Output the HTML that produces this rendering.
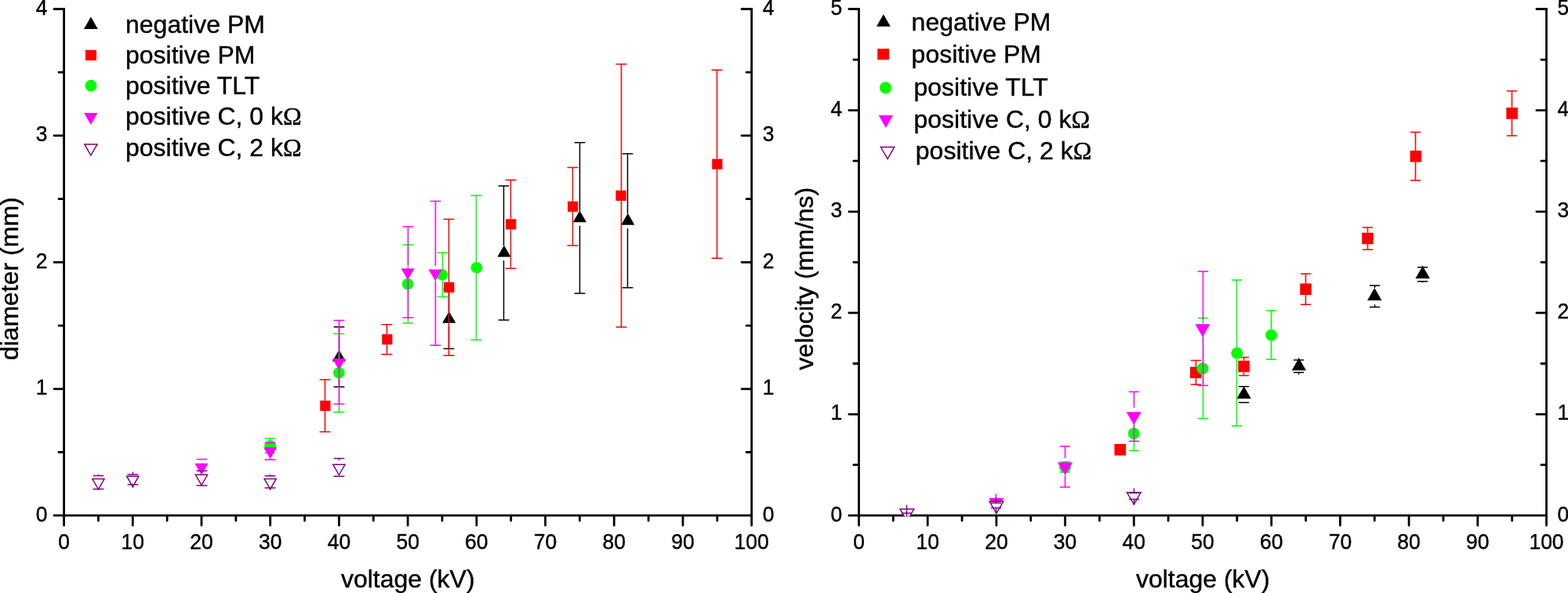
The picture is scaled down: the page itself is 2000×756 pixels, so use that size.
<!DOCTYPE html><html><head><meta charset="utf-8"><title>diameter and velocity vs voltage</title><style>html,body{margin:0;padding:0;background:#fff;}svg{display:block;}</style></head><body>
<svg width="2000" height="756" viewBox="0 0 2000 756" font-family='"Liberation Sans", Arial, sans-serif' fill="#000"><style>text{stroke:#000;stroke-width:0.4px;}</style>
<rect width="2000" height="756" fill="#fff"/>
<line x1="80.2" y1="657.2" x2="960.1" y2="657.2" stroke="#000000" stroke-width="2.8" stroke-linecap="butt"/>
<line x1="81.6" y1="10.1" x2="81.6" y2="657.2" stroke="#000000" stroke-width="2.8" stroke-linecap="butt"/>
<line x1="958.7" y1="10.1" x2="958.7" y2="657.2" stroke="#000000" stroke-width="2.8" stroke-linecap="butt"/>
<path d="M81.6 657.2V669.8M125.45 657.2V663.8M169.31 657.2V669.8M213.16 657.2V663.8M257.02 657.2V669.8M300.88 657.2V663.8M344.73 657.2V669.8M388.59 657.2V663.8M432.44 657.2V669.8M476.3 657.2V663.8M520.15 657.2V669.8M564 657.2V663.8M607.86 657.2V669.8M651.72 657.2V663.8M695.57 657.2V669.8M739.43 657.2V663.8M783.28 657.2V669.8M827.14 657.2V663.8M870.99 657.2V669.8M914.85 657.2V663.8M958.7 657.2V669.8M81.6 657.2H69M81.6 576.49H75M958.7 576.49H952.1M81.6 495.78H69M958.7 495.78H946.1M81.6 415.06H75M958.7 415.06H952.1M81.6 334.35H69M958.7 334.35H946.1M81.6 253.64H75M958.7 253.64H952.1M81.6 172.93H69M958.7 172.93H946.1M81.6 92.21H75M958.7 92.21H952.1M81.6 11.5H69M958.7 11.5H946.1" stroke="#000" stroke-width="2.8" stroke-linecap="round" fill="none"/>
<text transform="translate(81.6,699.8) scale(1,1.07)" font-size="26.5" text-anchor="middle">0</text>
<text transform="translate(169.31,699.8) scale(1,1.07)" font-size="26.5" text-anchor="middle">10</text>
<text transform="translate(257.02,699.8) scale(1,1.07)" font-size="26.5" text-anchor="middle">20</text>
<text transform="translate(344.73,699.8) scale(1,1.07)" font-size="26.5" text-anchor="middle">30</text>
<text transform="translate(432.44,699.8) scale(1,1.07)" font-size="26.5" text-anchor="middle">40</text>
<text transform="translate(520.15,699.8) scale(1,1.07)" font-size="26.5" text-anchor="middle">50</text>
<text transform="translate(607.86,699.8) scale(1,1.07)" font-size="26.5" text-anchor="middle">60</text>
<text transform="translate(695.57,699.8) scale(1,1.07)" font-size="26.5" text-anchor="middle">70</text>
<text transform="translate(783.28,699.8) scale(1,1.07)" font-size="26.5" text-anchor="middle">80</text>
<text transform="translate(870.99,699.8) scale(1,1.07)" font-size="26.5" text-anchor="middle">90</text>
<text transform="translate(958.7,699.8) scale(1,1.07)" font-size="26.5" text-anchor="middle">100</text>
<text transform="translate(60.5,664.6) scale(1,1.07)" font-size="26.5" text-anchor="end">0</text>
<text transform="translate(972.7,664.6) scale(1,1.07)" font-size="26.5" text-anchor="start">0</text>
<text transform="translate(60.5,503.18) scale(1,1.07)" font-size="26.5" text-anchor="end">1</text>
<text transform="translate(972.7,503.18) scale(1,1.07)" font-size="26.5" text-anchor="start">1</text>
<text transform="translate(60.5,341.75) scale(1,1.07)" font-size="26.5" text-anchor="end">2</text>
<text transform="translate(972.7,341.75) scale(1,1.07)" font-size="26.5" text-anchor="start">2</text>
<text transform="translate(60.5,180.33) scale(1,1.07)" font-size="26.5" text-anchor="end">3</text>
<text transform="translate(972.7,180.33) scale(1,1.07)" font-size="26.5" text-anchor="start">3</text>
<text transform="translate(60.5,18.9) scale(1,1.07)" font-size="26.5" text-anchor="end">4</text>
<text transform="translate(972.7,18.9) scale(1,1.07)" font-size="26.5" text-anchor="start">4</text>
<text x="520.25" y="749.3" font-size="32" text-anchor="middle" >voltage (kV)</text>
<text transform="translate(23.2,355.3) rotate(-90)" x="0" y="0" font-size="32" text-anchor="middle">diameter (mm)</text>
<g clip-path="url(#clipL)">
<polygon points="432.44,445.9 441.01,460.75 423.87,460.75" fill="#000000"/>
<path d="M432.5 416.8V446.3M432.5 493.3V465.3M425.6 416.8H439.4M425.6 493.3H439.4" stroke="#000000" stroke-width="1.5" fill="none"/>
<polygon points="572.78,396.9 581.35,411.75 564.2,411.75" fill="#000000"/>
<path d="M572.5 368.8V397.3M572.5 444.4V416.3M565.6 368.8H579.4M565.6 444.4H579.4" stroke="#000000" stroke-width="1.5" fill="none"/>
<polygon points="642.94,312.7 651.52,327.55 634.37,327.55" fill="#000000"/>
<path d="M642.5 237.1V313.1M642.5 407.9V332.1M635.6 237.1H649.4M635.6 407.9H649.4" stroke="#000000" stroke-width="1.5" fill="none"/>
<polygon points="739.43,268.4 748,283.25 730.85,283.25" fill="#000000"/>
<path d="M739.5 181.7V268.8M739.5 374.1V287.8M732.6 181.7H746.4M732.6 374.1H746.4" stroke="#000000" stroke-width="1.5" fill="none"/>
<polygon points="800.82,271.8 809.4,286.65 792.25,286.65" fill="#000000"/>
<path d="M800.5 196.1V272.2M800.5 366.7V291.2M793.6 196.1H807.4M793.6 366.7H807.4" stroke="#000000" stroke-width="1.5" fill="none"/>
<rect x="408.3" y="510.7" width="13.2" height="13.2" fill="#ff0000"/>
<path d="M414.5 484.1V510.7M414.5 550.5V523.9M407.6 484.1H421.4M407.6 550.5H421.4" stroke="#ff0000" stroke-width="1.5" fill="none"/>
<rect x="487.24" y="426.1" width="13.2" height="13.2" fill="#ff0000"/>
<path d="M493.5 413.7V426.1M493.5 451.7V439.3M486.6 413.7H500.4M486.6 451.7H500.4" stroke="#ff0000" stroke-width="1.5" fill="none"/>
<rect x="566.18" y="359.7" width="13.2" height="13.2" fill="#ff0000"/>
<path d="M572.5 279.4V359.7M572.5 453.3V372.9M565.6 279.4H579.4M565.6 453.3H579.4" stroke="#ff0000" stroke-width="1.5" fill="none"/>
<rect x="645.12" y="279.3" width="13.2" height="13.2" fill="#ff0000"/>
<path d="M651.5 229.5V279.3M651.5 342.2V292.5M644.6 229.5H658.4M644.6 342.2H658.4" stroke="#ff0000" stroke-width="1.5" fill="none"/>
<rect x="724.05" y="256.7" width="13.2" height="13.2" fill="#ff0000"/>
<path d="M730.5 213.6V256.7M730.5 313.1V269.9M723.6 213.6H737.4M723.6 313.1H737.4" stroke="#ff0000" stroke-width="1.5" fill="none"/>
<rect x="785.45" y="242.75" width="13.2" height="13.2" fill="#ff0000"/>
<path d="M792.5 81.8V242.75M792.5 416.9V255.95M785.6 81.8H799.4M785.6 416.9H799.4" stroke="#ff0000" stroke-width="1.5" fill="none"/>
<rect x="908.25" y="202.6" width="13.2" height="13.2" fill="#ff0000"/>
<path d="M914.5 89.2V202.6M914.5 329.2V215.8M907.6 89.2H921.4M907.6 329.2H921.4" stroke="#ff0000" stroke-width="1.5" fill="none"/>
<circle cx="344.73" cy="568.3" r="7.3" fill="#00ff00"/>
<path d="M344.5 559V561M344.5 577.6V575.6M337.6 559H351.4M337.6 577.6H351.4" stroke="#00ff00" stroke-width="1.5" fill="none"/>
<circle cx="432.44" cy="475.4" r="7.3" fill="#00ff00"/>
<path d="M432.5 425.4V468.1M432.5 525.4V482.7M425.6 425.4H439.4M425.6 525.4H439.4" stroke="#00ff00" stroke-width="1.5" fill="none"/>
<circle cx="520.15" cy="362.1" r="7.3" fill="#00ff00"/>
<path d="M520.5 312.1V354.8M520.5 412.1V369.4M513.6 312.1H527.4M513.6 412.1H527.4" stroke="#00ff00" stroke-width="1.5" fill="none"/>
<circle cx="564" cy="350.3" r="7.3" fill="#00ff00"/>
<path d="M564.5 322.2V343M564.5 378.4V357.6M557.6 322.2H571.4M557.6 378.4H571.4" stroke="#00ff00" stroke-width="1.5" fill="none"/>
<circle cx="607.86" cy="341.2" r="7.3" fill="#00ff00"/>
<path d="M607.5 249.2V333.9M607.5 433.3V348.5M600.6 249.2H614.4M600.6 433.3H614.4" stroke="#00ff00" stroke-width="1.5" fill="none"/>
<polygon points="257.02,605.7 265.59,590.85 248.45,590.85" fill="#ff00ff"/>
<path d="M257.5 585.6V586.3M257.5 606V605.3M250.6 585.6H264.4M250.6 606H264.4" stroke="#ff00ff" stroke-width="1.5" fill="none"/>
<polygon points="344.73,585.2 353.3,570.35 336.16,570.35" fill="#ff00ff"/>
<path d="M344.5 564.6V565.8M344.5 586V584.8M337.6 564.6H351.4M337.6 586H351.4" stroke="#ff00ff" stroke-width="1.5" fill="none"/>
<polygon points="432.44,471.8 441.01,456.95 423.87,456.95" fill="#ff00ff"/>
<path d="M432.5 408.6V452.4M432.5 514.9V471.4M425.6 408.6H439.4M425.6 514.9H439.4" stroke="#ff00ff" stroke-width="1.5" fill="none"/>
<polygon points="520.15,357.1 528.72,342.25 511.58,342.25" fill="#ff00ff"/>
<path d="M520.5 288.9V337.7M520.5 405.1V356.7M513.6 288.9H527.4M513.6 405.1H527.4" stroke="#ff00ff" stroke-width="1.5" fill="none"/>
<polygon points="555.23,358.3 563.81,343.45 546.66,343.45" fill="#ff00ff"/>
<path d="M555.5 256.5V338.9M555.5 440.3V357.9M548.6 256.5H562.4M548.6 440.3H562.4" stroke="#ff00ff" stroke-width="1.5" fill="none"/>
<polygon points="125.45,623.8 133.08,610.6 117.83,610.6" fill="#fff" stroke="#800080" stroke-width="1.5" stroke-linejoin="miter"/>
<path d="M125.5 606.5V605M125.5 623.5V625M118.6 606.5H132.4M118.6 623.5H132.4" stroke="#800080" stroke-width="1.5" fill="none"/>
<polygon points="169.31,620.4 176.93,607.2 161.69,607.2" fill="#fff" stroke="#800080" stroke-width="1.5" stroke-linejoin="miter"/>
<path d="M169.5 605V601.6M169.5 617.8V621.6M162.6 605H176.4M162.6 617.8H176.4" stroke="#800080" stroke-width="1.5" fill="none"/>
<polygon points="257.02,618.5 264.64,605.3 249.4,605.3" fill="#fff" stroke="#800080" stroke-width="1.5" stroke-linejoin="miter"/>
<path d="M257.5 600.3V599.7M257.5 618.9V619.7M250.6 600.3H264.4M250.6 618.9H264.4" stroke="#800080" stroke-width="1.5" fill="none"/>
<polygon points="344.73,623.6 352.35,610.4 337.11,610.4" fill="#fff" stroke="#800080" stroke-width="1.5" stroke-linejoin="miter"/>
<path d="M344.5 606.7V604.8M344.5 622.1V624.8M337.6 606.7H351.4M337.6 622.1H351.4" stroke="#800080" stroke-width="1.5" fill="none"/>
<polygon points="432.44,605.5 440.06,592.3 424.82,592.3" fill="#fff" stroke="#800080" stroke-width="1.5" stroke-linejoin="miter"/>
<path d="M432.5 584.4V586.7M432.5 607.3V606.7M425.6 584.4H439.4M425.6 607.3H439.4" stroke="#800080" stroke-width="1.5" fill="none"/>
</g>
<polygon points="115.9,21.45 124.82,36.9 106.98,36.9" fill="#000000"/>
<rect x="109" y="63.7" width="14" height="13.4" fill="#ff0000"/>
<circle cx="116" cy="109.3" r="7.5" fill="#00ff00"/>
<polygon points="115.8,158.9 124.46,143.9 107.14,143.9" fill="#ff00ff"/>
<polygon points="115.9,198 124.04,183.9 107.76,183.9" fill="#fff" stroke="#800080" stroke-width="1.5" stroke-linejoin="miter"/>
<text x="160" y="42.25" font-size="32" text-anchor="start" >negative PM</text>
<text x="160" y="80.5" font-size="32" text-anchor="start" >positive PM</text>
<text x="160" y="119.8" font-size="32" text-anchor="start" >positive TLT</text>
<text x="160" y="159.4" font-size="32" text-anchor="start" >positive C, 0 k<tspan font-family="'Liberation Serif', serif">Ω</tspan></text>
<text x="160" y="199.2" font-size="32" text-anchor="start" >positive C, 2 k<tspan font-family="'Liberation Serif', serif">Ω</tspan></text>
<line x1="1094.1" y1="657.2" x2="1973.9" y2="657.2" stroke="#000000" stroke-width="2.8" stroke-linecap="butt"/>
<line x1="1095.5" y1="10.1" x2="1095.5" y2="657.2" stroke="#000000" stroke-width="2.8" stroke-linecap="butt"/>
<line x1="1972.5" y1="10.1" x2="1972.5" y2="657.2" stroke="#000000" stroke-width="2.8" stroke-linecap="butt"/>
<path d="M1095.5 657.2V669.8M1139.35 657.2V663.8M1183.2 657.2V669.8M1227.05 657.2V663.8M1270.9 657.2V669.8M1314.75 657.2V663.8M1358.6 657.2V669.8M1402.45 657.2V663.8M1446.3 657.2V669.8M1490.15 657.2V663.8M1534 657.2V669.8M1577.85 657.2V663.8M1621.7 657.2V669.8M1665.55 657.2V663.8M1709.4 657.2V669.8M1753.25 657.2V663.8M1797.1 657.2V669.8M1840.95 657.2V663.8M1884.8 657.2V669.8M1928.65 657.2V663.8M1972.5 657.2V669.8M1095.5 657.2H1082.9M1095.5 592.63H1088.9M1972.5 592.63H1965.9M1095.5 528.06H1082.9M1972.5 528.06H1959.9M1095.5 463.49H1088.9M1972.5 463.49H1965.9M1095.5 398.92H1082.9M1972.5 398.92H1959.9M1095.5 334.35H1088.9M1972.5 334.35H1965.9M1095.5 269.78H1082.9M1972.5 269.78H1959.9M1095.5 205.21H1088.9M1972.5 205.21H1965.9M1095.5 140.64H1082.9M1972.5 140.64H1959.9M1095.5 76.07H1088.9M1972.5 76.07H1965.9M1095.5 11.5H1082.9M1972.5 11.5H1959.9" stroke="#000" stroke-width="2.8" stroke-linecap="round" fill="none"/>
<text transform="translate(1095.5,699.8) scale(1,1.07)" font-size="26.5" text-anchor="middle">0</text>
<text transform="translate(1183.2,699.8) scale(1,1.07)" font-size="26.5" text-anchor="middle">10</text>
<text transform="translate(1270.9,699.8) scale(1,1.07)" font-size="26.5" text-anchor="middle">20</text>
<text transform="translate(1358.6,699.8) scale(1,1.07)" font-size="26.5" text-anchor="middle">30</text>
<text transform="translate(1446.3,699.8) scale(1,1.07)" font-size="26.5" text-anchor="middle">40</text>
<text transform="translate(1534,699.8) scale(1,1.07)" font-size="26.5" text-anchor="middle">50</text>
<text transform="translate(1621.7,699.8) scale(1,1.07)" font-size="26.5" text-anchor="middle">60</text>
<text transform="translate(1709.4,699.8) scale(1,1.07)" font-size="26.5" text-anchor="middle">70</text>
<text transform="translate(1797.1,699.8) scale(1,1.07)" font-size="26.5" text-anchor="middle">80</text>
<text transform="translate(1884.8,699.8) scale(1,1.07)" font-size="26.5" text-anchor="middle">90</text>
<text transform="translate(1972.5,699.8) scale(1,1.07)" font-size="26.5" text-anchor="middle">100</text>
<text transform="translate(1074.2,664.6) scale(1,1.07)" font-size="26.5" text-anchor="end">0</text>
<text transform="translate(1986.5,664.6) scale(1,1.07)" font-size="26.5" text-anchor="start">0</text>
<text transform="translate(1074.2,535.46) scale(1,1.07)" font-size="26.5" text-anchor="end">1</text>
<text transform="translate(1986.5,535.46) scale(1,1.07)" font-size="26.5" text-anchor="start">1</text>
<text transform="translate(1074.2,406.32) scale(1,1.07)" font-size="26.5" text-anchor="end">2</text>
<text transform="translate(1986.5,406.32) scale(1,1.07)" font-size="26.5" text-anchor="start">2</text>
<text transform="translate(1074.2,277.18) scale(1,1.07)" font-size="26.5" text-anchor="end">3</text>
<text transform="translate(1986.5,277.18) scale(1,1.07)" font-size="26.5" text-anchor="start">3</text>
<text transform="translate(1074.2,148.04) scale(1,1.07)" font-size="26.5" text-anchor="end">4</text>
<text transform="translate(1986.5,148.04) scale(1,1.07)" font-size="26.5" text-anchor="start">4</text>
<text transform="translate(1074.2,18.9) scale(1,1.07)" font-size="26.5" text-anchor="end">5</text>
<text transform="translate(1986.5,18.9) scale(1,1.07)" font-size="26.5" text-anchor="start">5</text>
<text x="1534.25" y="749.3" font-size="32" text-anchor="middle" >voltage (kV)</text>
<text transform="translate(1036.7,355.2) rotate(-90)" x="0" y="0" font-size="32" text-anchor="middle">velocity (mm/ns)</text>
<g clip-path="url(#clipR)">
<polygon points="1586.62,492.4 1595.8,508.3 1577.44,508.3" fill="#000000"/>
<path d="M1586.5 492.7V492.4M1586.5 513.3V513.6M1579.9 492.7H1593.1M1579.9 513.3H1593.1" stroke="#000000" stroke-width="1.5" fill="none"/>
<polygon points="1656.78,456.4 1665.96,472.3 1647.6,472.3" fill="#000000"/>
<path d="M1656.5 459V456.4M1656.5 474.8V477.6M1649.9 459H1663.1M1649.9 474.8H1663.1" stroke="#000000" stroke-width="1.5" fill="none"/>
<polygon points="1753.25,367.1 1762.43,383 1744.07,383" fill="#000000"/>
<path d="M1753.5 364V367.1M1753.5 391.5V388.3M1746.9 364H1760.1M1746.9 391.5H1760.1" stroke="#000000" stroke-width="1.5" fill="none"/>
<polygon points="1814.64,339.1 1823.82,355 1805.46,355" fill="#000000"/>
<path d="M1814.5 340.7V339.1M1814.5 358.7V360.3M1807.9 340.7H1821.1M1807.9 358.7H1821.1" stroke="#000000" stroke-width="1.5" fill="none"/>
<rect x="1421.46" y="566" width="14.6" height="14.6" fill="#ff0000"/>
<path d="M1428.5 573.3V566M1428.5 573.3V580.6M1421.9 573.3H1435.1M1421.9 573.3H1435.1" stroke="#ff0000" stroke-width="1.5" fill="none"/>
<rect x="1517.93" y="467.6" width="14.6" height="14.6" fill="#ff0000"/>
<path d="M1525.5 459.4V467.6M1525.5 490.3V482.2M1518.9 459.4H1532.1M1518.9 490.3H1532.1" stroke="#ff0000" stroke-width="1.5" fill="none"/>
<rect x="1579.32" y="459.8" width="14.6" height="14.6" fill="#ff0000"/>
<path d="M1586.5 455.4V459.8M1586.5 478.8V474.4M1579.9 455.4H1593.1M1579.9 478.8H1593.1" stroke="#ff0000" stroke-width="1.5" fill="none"/>
<rect x="1658.25" y="361.4" width="14.6" height="14.6" fill="#ff0000"/>
<path d="M1665.5 349V361.4M1665.5 388.3V376M1658.9 349H1672.1M1658.9 388.3H1672.1" stroke="#ff0000" stroke-width="1.5" fill="none"/>
<rect x="1737.18" y="296.7" width="14.6" height="14.6" fill="#ff0000"/>
<path d="M1744.5 289.9V296.7M1744.5 318.2V311.3M1737.9 289.9H1751.1M1737.9 318.2H1751.1" stroke="#ff0000" stroke-width="1.5" fill="none"/>
<rect x="1798.57" y="192" width="14.6" height="14.6" fill="#ff0000"/>
<path d="M1805.5 168.5V192M1805.5 230.1V206.6M1798.9 168.5H1812.1M1798.9 230.1H1812.1" stroke="#ff0000" stroke-width="1.5" fill="none"/>
<rect x="1921.35" y="137.2" width="14.6" height="14.6" fill="#ff0000"/>
<path d="M1928.5 116V137.2M1928.5 173V151.8M1921.9 116H1935.1M1921.9 173H1935.1" stroke="#ff0000" stroke-width="1.5" fill="none"/>
<circle cx="1358.6" cy="595.5" r="7.5" fill="#00ff00"/>
<path d="M1358.5 589V588M1358.5 602.1V603M1351.9 589H1365.1M1351.9 602.1H1365.1" stroke="#00ff00" stroke-width="1.5" fill="none"/>
<circle cx="1446.3" cy="552.8" r="7.5" fill="#00ff00"/>
<path d="M1446.5 530.5V545.3M1446.5 574.6V560.3M1439.9 530.5H1453.1M1439.9 574.6H1453.1" stroke="#00ff00" stroke-width="1.5" fill="none"/>
<circle cx="1534" cy="469.8" r="7.5" fill="#00ff00"/>
<path d="M1534.5 405.4V462.3M1534.5 533.6V477.3M1527.9 405.4H1541.1M1527.9 533.6H1541.1" stroke="#00ff00" stroke-width="1.5" fill="none"/>
<circle cx="1577.85" cy="450.3" r="7.5" fill="#00ff00"/>
<path d="M1577.5 357V442.8M1577.5 543.1V457.8M1570.9 357H1584.1M1570.9 543.1H1584.1" stroke="#00ff00" stroke-width="1.5" fill="none"/>
<circle cx="1621.7" cy="427.3" r="7.5" fill="#00ff00"/>
<path d="M1621.5 395.9V419.8M1621.5 458.2V434.8M1614.9 395.9H1628.1M1614.9 458.2H1628.1" stroke="#00ff00" stroke-width="1.5" fill="none"/>
<polygon points="1270.9,651.5 1280.43,635 1261.37,635" fill="#ff00ff"/>
<path d="M1270.5 640.5V629.5M1270.5 640.5V651.5M1263.9 640.5H1277.1M1263.9 640.5H1277.1" stroke="#ff00ff" stroke-width="1.5" fill="none"/>
<polygon points="1358.6,606 1368.13,589.5 1349.07,589.5" fill="#ff00ff"/>
<path d="M1358.5 568.9V584M1358.5 621V606M1351.9 568.9H1365.1M1351.9 621H1365.1" stroke="#ff00ff" stroke-width="1.5" fill="none"/>
<polygon points="1446.3,541.8 1455.83,525.3 1436.77,525.3" fill="#ff00ff"/>
<path d="M1446.5 499.4V519.8M1446.5 562.4V541.8M1439.9 499.4H1453.1M1439.9 562.4H1453.1" stroke="#ff00ff" stroke-width="1.5" fill="none"/>
<polygon points="1534,429.7 1543.53,413.2 1524.47,413.2" fill="#ff00ff"/>
<path d="M1534.5 345.9V407.7M1534.5 491.5V429.7M1527.9 345.9H1541.1M1527.9 491.5H1541.1" stroke="#ff00ff" stroke-width="1.5" fill="none"/>
<polygon points="1156.89,664.4 1165.72,649.1 1148.06,649.1" fill="#fff" stroke="#800080" stroke-width="1.5" stroke-linejoin="miter"/>
<path d="M1156.5 654.2V643.8M1156.5 654.2V664.6M1149.9 654.2H1163.1M1149.9 654.2H1163.1" stroke="#800080" stroke-width="1.5" fill="none"/>
<polygon points="1270.9,654.6 1279.73,639.3 1262.07,639.3" fill="#fff" stroke="#800080" stroke-width="1.5" stroke-linejoin="miter"/>
<path d="M1270.5 641.2V634M1270.5 647.4V654.8M1263.9 641.2H1277.1M1263.9 647.4H1277.1" stroke="#800080" stroke-width="1.5" fill="none"/>
<polygon points="1446.3,643.1 1455.13,627.8 1437.47,627.8" fill="#fff" stroke="#800080" stroke-width="1.5" stroke-linejoin="miter"/>
<path d="M1446.5 628.6V622.5M1446.5 636.6V643.3M1439.9 628.6H1453.1M1439.9 636.6H1453.1" stroke="#800080" stroke-width="1.5" fill="none"/>
</g>
<polygon points="1126.9,18.3 1135.82,33.75 1117.98,33.75" fill="#000000"/>
<rect x="1119.2" y="62.1" width="15" height="14" fill="#ff0000"/>
<circle cx="1129.6" cy="111.9" r="7.6" fill="#00ff00"/>
<polygon points="1129.9,163 1139.08,147.1 1120.72,147.1" fill="#ff00ff"/>
<polygon points="1132.1,202.6 1140.76,187.6 1123.44,187.6" fill="#fff" stroke="#800080" stroke-width="1.5" stroke-linejoin="miter"/>
<text x="1162.6" y="39.3" font-size="32" text-anchor="start" >negative PM</text>
<text x="1162.6" y="79.5" font-size="32" text-anchor="start" >positive PM</text>
<text x="1165.5" y="122.3" font-size="32" text-anchor="start" >positive TLT</text>
<text x="1165.5" y="163" font-size="32" text-anchor="start" >positive C, 0 k<tspan font-family="'Liberation Serif', serif">Ω</tspan></text>
<text x="1167.8" y="203" font-size="32" text-anchor="start" >positive C, 2 k<tspan font-family="'Liberation Serif', serif">Ω</tspan></text>
<defs><clipPath id="clipL"><rect x="0" y="0" width="2000" height="658.6"/></clipPath><clipPath id="clipR"><rect x="0" y="0" width="2000" height="658.6"/></clipPath></defs>
</svg></body></html>
